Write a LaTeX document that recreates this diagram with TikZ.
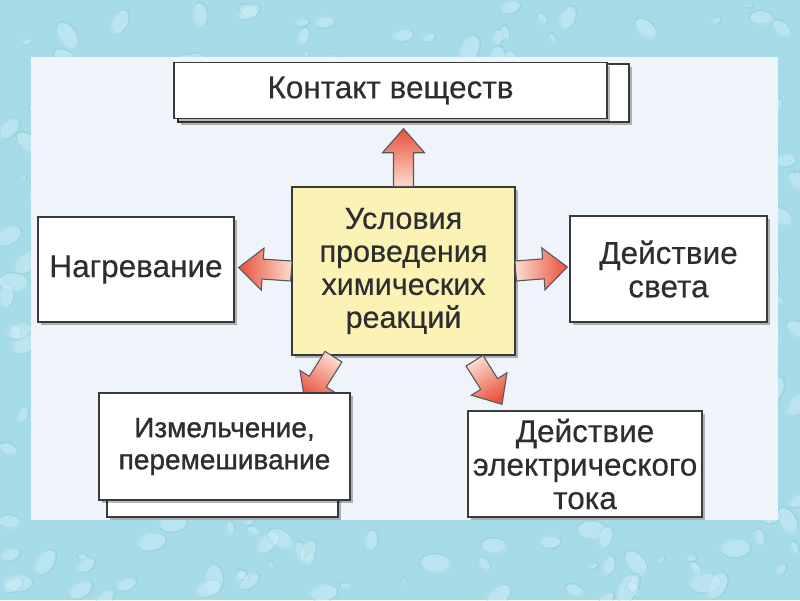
\documentclass[tikz,border=0pt]{standalone}
\usepackage{fontspec}
\setmainfont{Liberation Sans}
\newfontfamily\boldish[FakeBold=0.35]{Liberation Sans}
\newfontfamily\bolder[FakeBold=1.1]{Liberation Sans}
\usetikzlibrary{shadows,calc}
\definecolor{bgblue}{HTML}{A6DBE8}
\definecolor{dropl}{HTML}{D4F1F7}
\definecolor{dropd}{HTML}{78BFD2}
\definecolor{panelc}{HTML}{EEF4FA}
\definecolor{boxline}{HTML}{3A3A3A}
\definecolor{txt}{HTML}{2E2E2E}
\definecolor{yel}{HTML}{FBF2B6}
\definecolor{arrred}{HTML}{E9503B}
\definecolor{arrlight}{HTML}{FBDCD0}
\tikzset{
  box/.style={draw=boxline, line width=1.4pt, fill=white, inner sep=0pt,
    align=center, text=txt, font=\boldish\fontsize{31.5}{33.5}\selectfont,
    drop shadow={shadow xshift=3pt, shadow yshift=-3pt, fill=black, opacity=0.28}},
  yelbox/.style={box, fill=yel, font=\boldish\fontsize{30.5}{33}\selectfont},
  barrow/.style={draw=boxline!85, line width=1.1pt, line join=miter,
    top color=arrred, bottom color=arrlight},
}
% #1 tail, #2 tip, #3 shading angle
\newcommand\blockarrow[3]{%
  \coordinate (hb) at ($(#2)!24pt!(#1)$);
  \path[barrow, shading angle=#3]
    ($(#1)!10pt!-90:(#2)$) -- ($(hb)!10pt!-90:(#2)$) -- ($(hb)!21pt!-90:(#2)$)
    -- (#2) -- ($(hb)!21pt!90:(#2)$) -- ($(hb)!10pt!90:(#2)$)
    -- ($(#1)!10pt!90:(#2)$) -- cycle;
}
\begin{document}
\begin{tikzpicture}[x=1pt,y=-1pt]
\useasboundingbox (0,0) rectangle (800,600);
% background texture
\fill[bgblue] (0,0) rectangle (800,600);
\pgfmathsetseed{12}
\foreach \i in {1,...,380}{
  \pgfmathsetmacro\xx{rnd*800}
  \pgfmathsetmacro\yy{rnd*600}
  \pgfmathsetmacro\rr{3+rnd*13}
  \pgfmathsetmacro\ang{rnd*180}
  \fill[dropl,opacity=0.45,rotate around={\ang:(\xx,\yy)}] (\xx,\yy) ellipse [x radius=\rr, y radius=0.6*\rr];
  \draw[dropd,opacity=0.3,line width=0.9pt,rotate around={\ang:(\xx,\yy)}] (\xx+1,\yy+1) ellipse [x radius=\rr, y radius=0.6*\rr];
}
% panel
\fill[panelc] (31,57) rectangle (778,520);

% boxes
\node[box, minimum width=451pt, minimum height=58pt] (topback) at (403.5,93) {};
\node[box, minimum width=433pt, minimum height=56pt] (top) at (390.5,90.5) {Контакт веществ};
\node[yelbox, minimum width=223pt, minimum height=168pt] (center) at (403.5,271)
  {Условия\\проведения\\химических\\реакций};
\node[box, minimum width=196pt, minimum height=105pt] (heat) at (136,269.5) {Нагревание};
\node[box, minimum width=197pt, minimum height=106pt] (light) at (668.5,269) {Действие\\света};
\node[box, minimum width=234pt, minimum height=106pt] (current) at (585,464) {Действие\\электрического\\тока};

% arrows
\coordinate (upTail) at (center.north);
\coordinate (upTip) at ($(center.north |- topback.south)+(0,6)$);
\blockarrow{upTail}{upTip}{0}
\coordinate (lTail) at (center.west);
\coordinate (lTip) at ($(heat.east)+(4,-2)$);
\blockarrow{lTail}{lTip}{90}
\coordinate (rTail) at (center.east);
\coordinate (rTip) at ($(light.west)+(-2,-2)$);
\blockarrow{rTail}{rTip}{-90}
\coordinate (drTail) at ($(center.south)+(71,5)$);
\coordinate (drTip) at ($(current.north)+(-83,-6)$);
\blockarrow{drTail}{drTip}{-148}

% grind boxes (drawn over the down-left arrow tip)
\node[box, minimum width=231pt, minimum height=40pt] (grindback) at (222.5,497) {};
\coordinate (dlTail) at ($(center.south)+(-70,1)$);
\coordinate (dlTip) at (305,402);
\blockarrow{dlTail}{dlTip}{149}
\node[box, minimum width=251pt, minimum height=107pt, font=\bolder\fontsize{28}{32}\selectfont] (grind) at (224.5,446.5) {Измельчение,\\перемешивание};
\end{tikzpicture}
\end{document}
